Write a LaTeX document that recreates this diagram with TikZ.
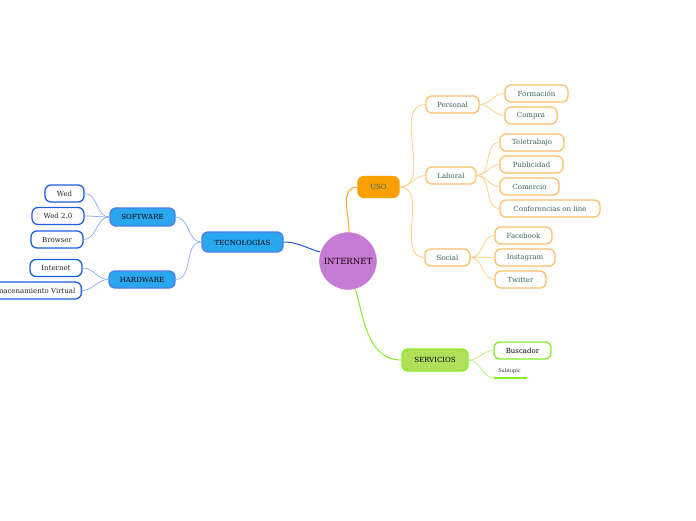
\documentclass[tikz,border=0pt]{standalone}
\usepackage{fontspec}
\setmainfont{DejaVu Serif}

\definecolor{bluebranch}{HTML}{1F5CE0}
\definecolor{bluelight}{HTML}{8AA8F5}
\definecolor{bluefill}{HTML}{29A8F0}
\definecolor{orangebranch}{HTML}{F5A623}
\definecolor{orangelight}{HTML}{FCD08A}
\definecolor{orangefill}{HTML}{F7A000}
\definecolor{orangeline}{HTML}{FBC06A}
\definecolor{tealtext}{HTML}{3A6657}
\definecolor{greenbranch}{HTML}{86EC2A}
\definecolor{greenlight}{HTML}{B8F08A}
\definecolor{greenfill}{HTML}{B0E05A}
\definecolor{purplefill}{HTML}{C57BD3}

\begin{document}
\begin{tikzpicture}[x=1pt, y=-1pt, font=\fontsize{7}{8}\selectfont,
    topicbox/.style={rounded corners=6pt, line width=1.3pt, minimum height=17pt, inner sep=0pt},
    bluemain/.style={topicbox, fill=bluefill, draw=bluebranch!80, text=black},
    bluesub/.style={topicbox, fill=white, draw=bluebranch, text=black!85},
    orangemain/.style={topicbox, fill=orangefill, draw=orangefill, text=tealtext, minimum height=21pt},
    orangesub/.style={topicbox, fill=white, draw=orangeline, text=tealtext},
    greenmain/.style={topicbox, fill=greenfill, draw=greenbranch, text=black, minimum height=22pt},
    greensub/.style={topicbox, fill=white, draw=greenbranch, text=black}]
    \useasboundingbox (0,0) rectangle (696,520);

    % centre
    \node (internet) [circle, fill=purplefill, draw=white, minimum size=58pt, inner sep=0pt,
        font=\fontsize{8.5}{10}\selectfont, text=black!85!purple] at (348,261) {INTERNET};

    % tecnologias
    \node (tec) [bluemain, minimum width=81pt, minimum height=20pt] at (242.5,242) {TECNOLOGÍAS};
    \node (software) [bluemain, minimum width=65pt, minimum height=18pt] at (142.5,217) {SOFTWARE};
    \node (hardware) [bluemain, minimum width=66pt] at (142,279.5) {HARDWARE};
    \node (wed) [bluesub, minimum width=39pt] at (64.5,193.5) {Wed};
    \node (wed2) [bluesub, minimum width=52pt] at (58,216) {Wed 2.0};
    \node (browser) [bluesub, minimum width=52pt] at (57,239.5) {Browser};
    \node (net) [bluesub, minimum width=52pt] at (56,268) {Internet};
    \node (almac) [bluesub, anchor=east, inner xsep=6pt] at (82,290.5) {Almacenamiento Virtual};

    % uso
    \node (uso) [orangemain, minimum width=41pt] at (378.5,187) {USO};
    \node (personal) [orangesub, minimum width=53pt] at (452.5,104.5) {Personal};
    \node (formacion) [orangesub, minimum width=63pt] at (536.5,93.5) {Formación};
    \node (compra) [orangesub, minimum width=52pt] at (531,115.5) {Compra};
    \node (laboral) [orangesub, minimum width=50pt] at (451,175.5) {Laboral};
    \node (teletrabajo) [orangesub, minimum width=64pt] at (532,142.5) {Teletrabajo};
    \node (publicidad) [orangesub, minimum width=63pt] at (531.5,164.5) {Publicidad};
    \node (comercio) [orangesub, minimum width=59pt] at (529.5,186.5) {Comercio};
    \node (conferencias) [orangesub, minimum width=100pt] at (550,208.5) {Conferencias on line};
    \node (social) [orangesub, minimum width=45pt] at (447.5,257.5) {Social};
    \node (facebook) [orangesub, minimum width=57pt] at (523.5,235.5) {Facebook};
    \node (instagram) [orangesub, minimum width=60pt] at (525,257.5) {Instagram};
    \node (twitter) [orangesub, minimum width=51pt] at (520.5,279.5) {Twitter};

    % servicios
    \node (servicios) [greenmain, minimum width=66pt] at (435,360) {SERVICIOS};
    \node (buscador) [greensub, minimum width=57pt] at (522.5,350.5) {Buscador};
    \node (subtopic) [inner sep=0pt, font=\fontsize{5}{6}\selectfont, text=black!80] at (509.5,371) {Subtopic};
    \coordinate (subl) at (494,378);
    \coordinate (subr) at (527,378);

    \path [draw=bluebranch, line width=1pt]
        (internet.162) edge[out=165, in=0] (tec.east);
    \path [draw=bluelight, line width=0.7pt] (tec.west)
        edge[out=180, in=0] (software.east)
        edge[out=180, in=0] (hardware.east);
    \path [draw=bluelight, line width=0.7pt] (software.west)
        edge[out=180, in=0] (wed.east)
        edge[out=180, in=0] (wed2.east)
        edge[out=180, in=0] (browser.east);
    \path [draw=bluelight, line width=0.7pt] (hardware.west)
        edge[out=180, in=0] (net.east)
        edge[out=180, in=0] (almac.east);

    \path [draw=orangebranch, line width=1pt]
        (internet.88) edge[out=90, in=180] (uso.west);
    \path [draw=orangelight, line width=0.8pt] (uso.east)
        edge[out=0, in=180] (personal.west)
        edge[out=0, in=180] (laboral.west)
        edge[out=0, in=180] (social.west);
    \path [draw=orangelight, line width=0.8pt] (personal.east)
        edge[out=0, in=180] (formacion.west)
        edge[out=0, in=180] (compra.west);
    \path [draw=orangelight, line width=0.8pt] (laboral.east)
        edge[out=0, in=180] (teletrabajo.west)
        edge[out=0, in=180] (publicidad.west)
        edge[out=0, in=180] (comercio.west)
        edge[out=0, in=180] (conferencias.west);
    \path [draw=orangelight, line width=0.8pt] (social.east)
        edge[out=0, in=180] (facebook.west)
        edge[out=0, in=180] (instagram.west)
        edge[out=0, in=180] (twitter.west);

    \path [draw=greenbranch, line width=1pt]
        (internet.-75) edge[out=-75, in=180] (servicios.west);
    \path [draw=greenlight, line width=0.8pt] (servicios.east)
        edge[out=0, in=180] (buscador.west)
        edge[out=0, in=180] (subl);
    \path [draw=greenbranch, line width=1.3pt] (subl) edge (subr);
\end{tikzpicture}
\end{document}
